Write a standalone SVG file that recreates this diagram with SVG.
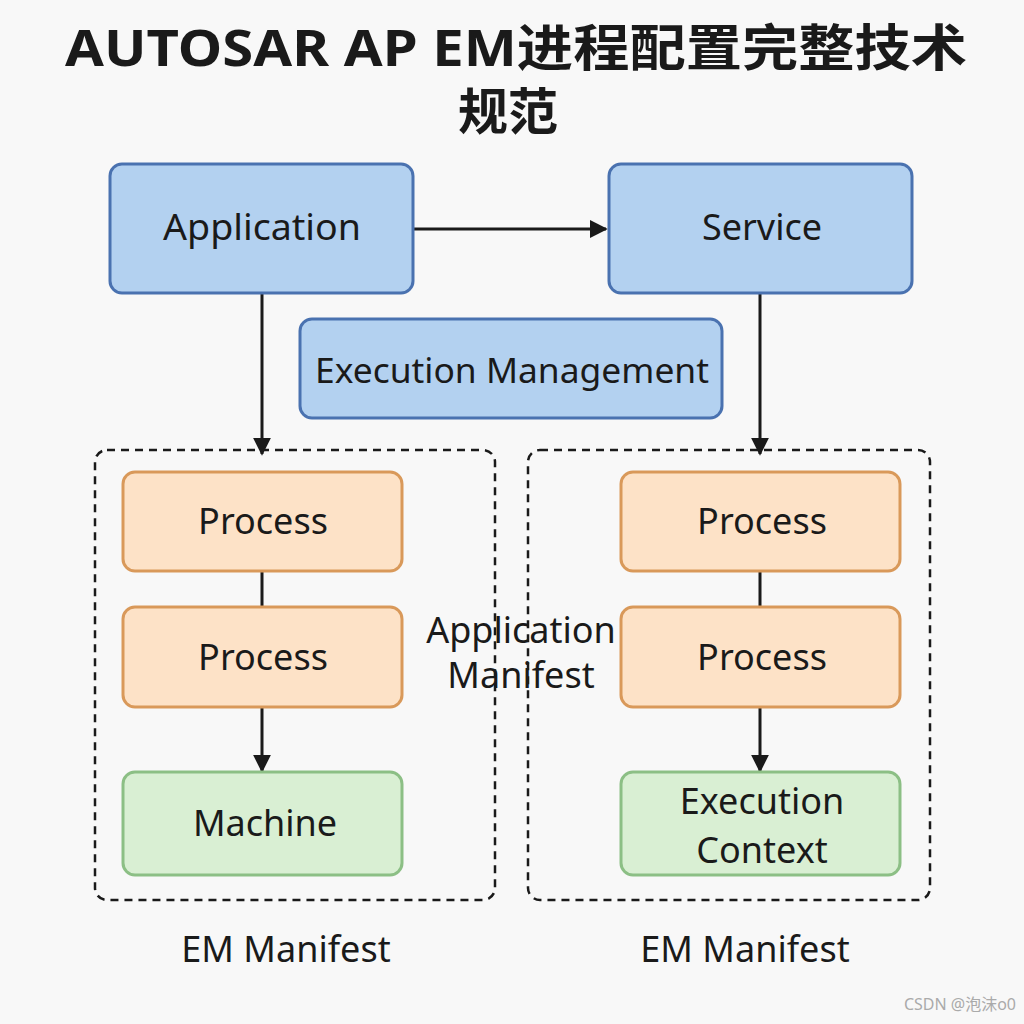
<svg xmlns="http://www.w3.org/2000/svg" width="1024" height="1024" viewBox="0 0 1024 1024">
<style>
text{font-family:"Noto Sans","Noto Sans CJK SC",sans-serif;fill:#1a1a1a;text-anchor:middle}
.blue{fill:#b3d1f0;stroke:#4a72b0;stroke-width:3}
.or{fill:#fde2c7;stroke:#d9995a;stroke-width:3}
.gr{fill:#d9efd3;stroke:#8cbf85;stroke-width:3}
.dash{fill:none;stroke:#1a1a1a;stroke-width:2.5;stroke-dasharray:8 6}
.c{stroke:#1a1a1a;stroke-width:3;fill:none}
.t{font-size:36px}
</style>
<defs><marker id="a" viewBox="0 0 10 10" refX="9" refY="5" markerWidth="6" markerHeight="6" orient="auto" markerUnits="strokeWidth"><path d="M0,0L10,5L0,10z" fill="#1a1a1a"/></marker></defs>
<rect width="1024" height="1024" fill="#f8f8f8"/>
<text x="516" y="66" style="font-size:50px;font-weight:bold" textLength="902" lengthAdjust="spacingAndGlyphs">AUTOSAR AP EM进程配置完整技术</text>
<text x="508" y="130" style="font-size:50px;font-weight:bold">规范</text>
<rect class="dash" x="95" y="450" width="400" height="450" rx="12"/>
<rect class="dash" x="528" y="450" width="402" height="450" rx="12"/>
<g id="connectors">
<line class="c" x1="413" y1="229" x2="606" y2="229" marker-end="url(#a)"/>
<line class="c" x1="262" y1="293" x2="262" y2="454" marker-end="url(#a)"/>
<line class="c" x1="760" y1="293" x2="760" y2="454" marker-end="url(#a)"/>
<line class="c" x1="262" y1="571" x2="262" y2="607"/>
<line class="c" x1="760" y1="571" x2="760" y2="607"/>
<line class="c" x1="262" y1="707" x2="262" y2="771" marker-end="url(#a)"/>
<line class="c" x1="760" y1="707" x2="760" y2="771" marker-end="url(#a)"/>
</g>
<g id="app"><rect class="blue" x="110" y="164" width="303" height="129" rx="12"/><text class="t" x="262" y="240" textLength="198" lengthAdjust="spacingAndGlyphs">Application</text></g>
<g id="service"><rect class="blue" x="609" y="164" width="303" height="129" rx="12"/><text class="t" x="762" y="240">Service</text></g>
<g id="em"><rect class="blue" x="300" y="319" width="422" height="99" rx="12"/><text x="512" y="383" style="font-size:34px" textLength="394" lengthAdjust="spacingAndGlyphs">Execution Management</text></g>
<g id="p1"><rect class="or" x="123" y="472" width="279" height="99" rx="12"/><text class="t" x="263" y="534">Process</text></g>
<g id="p2"><rect class="or" x="123" y="607" width="279" height="100" rx="12"/><text class="t" x="263" y="670">Process</text></g>
<g id="machine"><rect class="gr" x="123" y="772" width="279" height="103" rx="12"/><text class="t" x="265" y="836">Machine</text></g>
<g id="p3"><rect class="or" x="621" y="472" width="279" height="99" rx="12"/><text class="t" x="762" y="534">Process</text></g>
<g id="p4"><rect class="or" x="621" y="607" width="279" height="100" rx="12"/><text class="t" x="762" y="670">Process</text></g>
<g id="ctx"><rect class="gr" x="621" y="772" width="279" height="103" rx="12"/><text class="t" x="762" y="814">Execution</text><text class="t" x="762" y="863">Context</text></g>
<text class="t" x="521" y="643">Application</text>
<text class="t" x="521" y="688">Manifest</text>
<text class="t" x="286" y="962">EM Manifest</text>
<text class="t" x="745" y="962">EM Manifest</text>
<text x="1016" y="1010" style="font-size:16px;fill:#aaa;text-anchor:end">CSDN @泡沫o0</text>
</svg>
